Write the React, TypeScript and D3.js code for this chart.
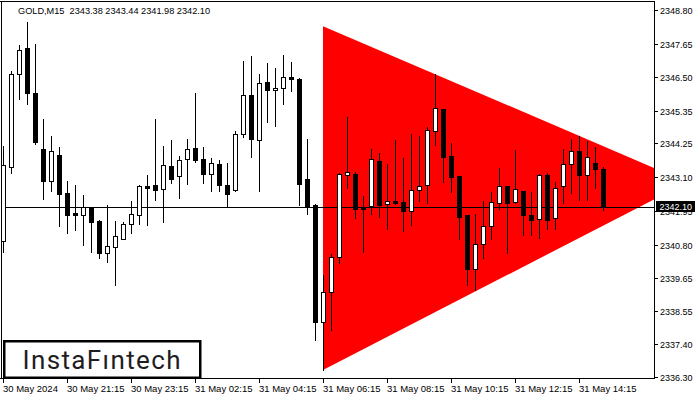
import React from 'react';
import * as d3 from 'd3';

const SYMBOL = 'GOLD,M15';
const LAST_OHLC = ['2343.38', '2343.44', '2341.98', '2342.10'];
const LAST_PRICE = 2342.1;

const OPEN = [
  2340.93, 2343.46, 2346.61, 2347.5, 2345.97, 2344.06, 2342.98, 2343.86, 2342.56, 2341.89,
  2341.82, 2342.05, 2341.61, 2340.53, 2340.73, 2341.0, 2341.49, 2341.82, 2342.8, 2342.83,
  2342.71, 2343.48, 2343.13, 2343.71, 2344.1, 2343.71, 2343.22, 2343.54, 2342.83, 2342.65,
  2344.56, 2345.89, 2344.36, 2346.34, 2346.06, 2346.13, 2346.51, 2346.44, 2343.03, 2342.15,
  2338.15, 2339.2, 2340.37, 2343.19, 2343.22, 2342.09, 2342.11, 2343.64, 2342.18, 2342.28,
  2342.25, 2341.94, 2342.65, 2342.82, 2344.66, 2345.41, 2343.82, 2343.14, 2341.8, 2339.96,
  2340.81, 2341.43, 2342.21, 2342.79, 2342.24, 2342.62, 2341.8, 2341.68, 2343.17, 2341.7,
  2342.79, 2343.54, 2343.98, 2343.18, 2343.57, 2343.38,
];
const HIGH = [
  2344.17, 2346.72, 2347.61, 2348.38, 2347.64, 2345.08, 2344.5, 2344.13, 2342.97, 2342.84,
  2342.49, 2342.08, 2341.64, 2342.15, 2341.61, 2341.57, 2342.29, 2342.84, 2343.18, 2345.08,
  2344.16, 2344.37, 2343.82, 2344.4, 2345.97, 2344.13, 2343.75, 2343.69, 2343.57, 2344.68,
  2347.06, 2347.23, 2346.62, 2346.99, 2346.82, 2347.27, 2347.03, 2346.47, 2344.4, 2342.19,
  2339.77, 2340.47, 2343.24, 2345.15, 2343.28, 2342.46, 2344.06, 2343.93, 2343.55, 2344.37,
  2343.76, 2344.57, 2344.5, 2344.81, 2346.62, 2345.43, 2344.26, 2343.15, 2341.81, 2341.85,
  2342.29, 2342.6, 2343.41, 2342.8, 2344.03, 2342.63, 2342.6, 2343.2, 2343.23, 2342.93,
  2344.05, 2344.39, 2344.49, 2344.34, 2344.12, 2343.44,
];
const LOW = [
  2340.54, 2343.25, 2345.77, 2345.59, 2344.22, 2342.36, 2342.63, 2341.45, 2341.21, 2341.3,
  2340.79, 2340.56, 2340.35, 2340.22, 2339.43, 2340.98, 2341.21, 2341.52, 2341.48, 2342.33,
  2341.58, 2342.91, 2342.4, 2342.88, 2343.63, 2342.91, 2342.64, 2342.64, 2342.12, 2342.64,
  2344.48, 2343.78, 2342.64, 2344.99, 2344.86, 2345.59, 2346.03, 2342.16, 2341.84, 2337.55,
  2336.53, 2337.89, 2340.19, 2342.74, 2341.72, 2340.56, 2341.86, 2341.75, 2341.34, 2342.18,
  2341.28, 2341.48, 2342.3, 2342.23, 2344.21, 2342.95, 2342.59, 2341.0, 2339.44, 2339.25,
  2340.36, 2341.0, 2342.02, 2340.53, 2342.23, 2341.14, 2341.14, 2341.04, 2341.34, 2341.34,
  2342.23, 2342.57, 2342.31, 2342.31, 2342.74, 2341.98,
];
const CLOSE = [
  2343.52, 2346.61, 2347.44, 2345.98, 2344.31, 2342.98, 2343.98, 2342.54, 2341.82, 2341.82,
  2342.08, 2341.58, 2340.53, 2340.74, 2341.09, 2341.49, 2341.85, 2342.8, 2342.74, 2342.67,
  2343.51, 2343.05, 2343.68, 2344.05, 2343.7, 2343.22, 2343.57, 2342.82, 2342.52, 2344.56,
  2345.89, 2344.39, 2346.3, 2346.06, 2346.13, 2346.51, 2346.44, 2342.88, 2342.12, 2338.15,
  2339.2, 2340.37, 2343.22, 2343.27, 2342.03, 2342.03, 2343.71, 2342.16, 2342.28, 2342.22,
  2341.96, 2342.67, 2342.8, 2344.7, 2345.45, 2343.78, 2343.12, 2341.75, 2339.98, 2340.81,
  2341.43, 2342.24, 2342.79, 2342.21, 2342.69, 2341.82, 2341.65, 2343.17, 2341.65, 2342.74,
  2343.54, 2343.98, 2343.19, 2343.78, 2343.39, 2342.1,
];

const TIME_TICK_INDEX = [0, 8, 16, 24, 32, 40, 48, 56, 64, 72];
const TIME_LABELS = [
  '30 May 2024', '30 May 21:15', '30 May 23:15', '31 May 02:15', '31 May 04:15',
  '31 May 06:15', '31 May 08:15', '31 May 10:15', '31 May 12:15', '31 May 14:15',
];
const PRICE_TICKS = [
  '2348.80', '2347.65', '2346.50', '2345.35', '2344.25', '2343.10',
  '2341.95', '2340.80', '2339.65', '2338.55', '2337.40', '2336.30',
];

// symmetric triangle pattern vertices (bar index, price)
const PATTERN_INDEX = [40, 85.55, 40];
const PATTERN_PRICE = [2348.25, 2342.93, 2336.53];

const LOGO_TEXT = 'InstaF\u0131ntech';

export default function App() {
  const W = 700;
  const H = 400;
  const left = 2;
  const top = 2;
  const right = 654;
  const bottom = 378;
  const font = "'Liberation Sans', Arial, sans-serif";

  const x = d3.scaleLinear().domain([0, OPEN.length - 1]).range([3, 603]);
  const y = d3.scaleLinear().domain([2336.3, 2348.8]).range([376.7, 10]);

  const tri = d3.line()(
    PATTERN_INDEX.map((k, i) => [x(k), y(PATTERN_PRICE[i])] as [number, number])
  ) + 'Z';

  const lastY = Math.round(y(LAST_PRICE)) + 0.5;

  return (
    <svg
      width={W}
      height={H}
      style={{ position: 'absolute', left: 0, top: 0, display: 'block', background: '#fff' }}
    >
      <defs>
        <clipPath id="plotClip">
          <rect x={left} y={top} width={right - left} height={bottom - top} />
        </clipPath>
        <clipPath id="hiddenTickClip">
          <rect x={656} y={212} width={44} height={10} />
        </clipPath>
      </defs>
      <rect x={0} y={0} width={W} height={H} fill="#fff" />
      <g clipPath="url(#plotClip)">
        <path d={tri} fill="#ff0000" />
        <line x1={left} x2={right} y1={lastY} y2={lastY} stroke="#000" strokeWidth={1} />
        {OPEN.map((o, k) => {
          const c = Math.round(x(k));
          const h = HIGH[k];
          const l = LOW[k];
          const cl = CLOSE[k];
          const bull = cl >= o;
          const yH = Math.round(y(h));
          const yL = Math.round(y(l));
          const yTop = Math.round(y(Math.max(o, cl)));
          const yBot = Math.round(y(Math.min(o, cl)));
          return (
            <g key={k}>
              <line x1={c + 0.5} x2={c + 0.5} y1={yH} y2={yL + 1} stroke="#000" strokeWidth={1} />
              {bull ? (
                <rect
                  x={c - 1.5}
                  y={yTop + 0.5}
                  width={4}
                  height={Math.max(yBot - yTop, 1)}
                  fill="#fff"
                  stroke="#000"
                  strokeWidth={1}
                />
              ) : (
                <rect
                  x={c - 2}
                  y={yTop}
                  width={5}
                  height={Math.max(yBot - yTop + 1, 2)}
                  fill="#000"
                />
              )}
            </g>
          );
        })}
        <text
          x={18}
          y={14}
          fontFamily={font}
          fontSize={9.2}
          fill="#000"
          style={{ whiteSpace: 'pre' }}
        >
          {SYMBOL + '  ' + LAST_OHLC.join(' ')}
        </text>
      </g>

      {/* frame */}
      <line x1={0} x2={right + 1} y1={1.5} y2={1.5} stroke="#000" />
      <line x1={1.5} x2={1.5} y1={1} y2={bottom + 1} stroke="#000" />
      <line x1={right + 0.5} x2={right + 0.5} y1={1} y2={bottom + 1} stroke="#000" />
      <line x1={0} x2={right + 1} y1={bottom + 0.5} y2={bottom + 0.5} stroke="#000" />

      {/* logo */}
      <rect x={4.25} y={341.25} width={196} height={36.5} fill="#fff" stroke="#000" strokeWidth={2.5} />
      <text
        x={22.5}
        y={369}
        fontFamily="Roboto, 'Open Sans', sans-serif"
        fontWeight={400}
        fontSize={26}
        fill="#1e1e1e"
        textLength={158}
        lengthAdjust="spacing"
      >
        {LOGO_TEXT}
      </text>

      {/* price axis */}
      {PRICE_TICKS.map((t) => {
        const ty = Math.round(y(+t)) + 0.5;
        const hidden = Math.abs(+t - LAST_PRICE) < 0.3;
        return (
          <g key={t}>
            <line x1={right + 1} x2={right + 4} y1={ty} y2={ty} stroke="#000" />
            <text
              x={660}
              y={ty + 3.3}
              fontFamily={font}
              fontSize={9}
              fill="#000"
              clipPath={hidden ? 'url(#hiddenTickClip)' : undefined}
            >
              {t}
            </text>
          </g>
        );
      })}
      <rect x={656} y={201} width={39} height={11} fill="#000" />
      <text x={659.5} y={209.8} fontFamily={font} fontSize={9} fill="#fff">
        {LAST_PRICE.toFixed(2)}
      </text>

      {/* time axis */}
      {TIME_TICK_INDEX.map((k, i) => {
        const c = Math.round(x(k)) + 0.5;
        return (
          <g key={k}>
            <line x1={c} x2={c} y1={bottom + 1} y2={bottom + 5} stroke="#000" />
            <text x={c - 0.5} y={392} fontFamily={font} fontSize={9.5} fill="#000">
              {TIME_LABELS[i]}
            </text>
          </g>
        );
      })}
    </svg>
  );
}
